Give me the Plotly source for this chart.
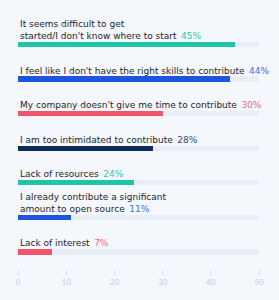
import plotly.graph_objects as go

labels = [
    "It seems difficult to get<br>started/I don't know where to start",
    "I feel like I don't have the right skills to contribute",
    "My company doesn't give me time to contribute",
    "I am too intimidated to contribute",
    "Lack of resources",
    "I already contribute a significant<br>amount to open source",
    "Lack of interest",
]
values = [45, 44, 30, 28, 24, 11, 7]
bar_colors = ["#1fc4a9", "#1f54df", "#f2546a", "#0c2b5c", "#1fc4a9", "#1f54df", "#f2546a"]
pct_colors = ["#2cc9ae", "#4470e6", "#f26a7e", "#2b4a7e", "#2cc9ae", "#4470e6", "#f26a7e"]
tick_vals = [0, 10, 20, 30, 40, 50]

pos = list(range(len(values)))
fig = go.Figure()
fig.add_trace(go.Bar(x=[50] * len(values), y=pos, orientation="h", width=0.15,
                     marker=dict(color="#e9eef6", line_width=0), hoverinfo="skip"))
fig.add_trace(go.Bar(x=values, y=pos, orientation="h", width=0.15,
                     marker=dict(color=bar_colors, line_width=0)))

for p, lab, v, c in zip(pos, labels, values, pct_colors):
    fig.add_annotation(x=0, y=p, xref="x", yref="y", xanchor="left", yanchor="bottom",
                       yshift=1.5, showarrow=False, align="left",
                       text=f"{lab}\u2002<span style='color:{c}'>{v}%</span>",
                       font=dict(size=9, color="#1e1f2a", family="DejaVu Sans"))

fig.update_layout(
    width=279, height=300, barmode="overlay", showlegend=False,
    paper_bgcolor="#f4f7fc", plot_bgcolor="#f4f7fc",
    margin=dict(l=18, r=20, t=0, b=31),
    bargap=0,
    xaxis=dict(range=[0, 50], tickvals=tick_vals, showgrid=False, zeroline=False,
               showline=False, ticks="outside", ticklen=5, tickcolor="#d5dce7",
               tickfont=dict(size=8, color="#c3cddb", family="Lato")),
    yaxis=dict(range=[6.492, -1.287], visible=False, showgrid=False),
)
fig.write_html("out.html")
